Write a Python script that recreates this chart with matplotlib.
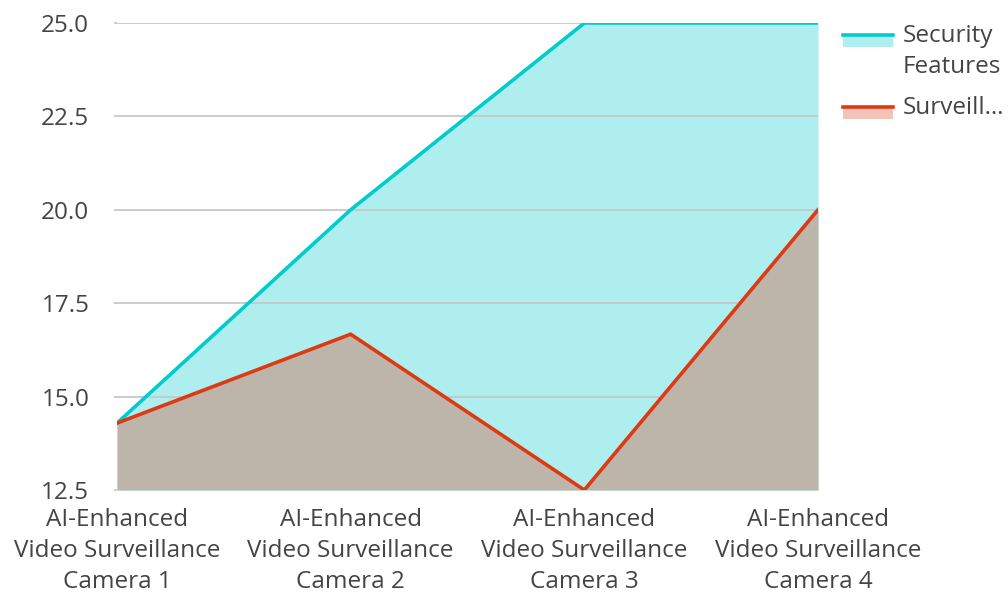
import numpy as np
import matplotlib
matplotlib.use("Agg")
import matplotlib.pyplot as plt
from matplotlib.patches import Rectangle
from matplotlib.lines import Line2D

plt.rcParams['font.family'] = ['Open Sans', 'DejaVu Sans']

categories = ["AI-Enhanced\nVideo Surveillance\nCamera 1",
              "AI-Enhanced\nVideo Surveillance\nCamera 2",
              "AI-Enhanced\nVideo Surveillance\nCamera 3",
              "AI-Enhanced\nVideo Surveillance\nCamera 4"]
security = [14.29, 20.0, 25.0, 25.0]
surveillance = [14.29, 16.67, 12.5, 20.0]
yticks = [12.5, 15.0, 17.5, 20.0, 22.5, 25.0]

cyan_line = "#00cccc"
cyan_fill = "#afeeee"
red_line = "#dd3a14"
red_fill = "#f2c4b8"
overlap = "#bdb5aa"
text_col = "#444444"
fs = 17.5

W, H = 1008, 594
fig = plt.figure(figsize=(W / 100, H / 100), dpi=100)
ax = fig.add_axes([117 / W, 1 - 490 / H, (818 - 117) / W, (490 - 23) / H])

x = np.arange(len(categories))
base = yticks[0]

# fills: cyan area then overlap (brownish) under the red line
ax.fill_between(x, base, security, color=cyan_fill, lw=0, zorder=1)
ax.fill_between(x, base, surveillance, color=overlap, lw=0, zorder=2)

ax.plot(x, security, color=cyan_line, lw=2.6, zorder=4, solid_joinstyle='miter')
ax.plot(x, surveillance, color=red_line, lw=2.6, zorder=4, solid_joinstyle='miter')

ax.set_xlim(0, len(categories) - 1)
ax.set_ylim(yticks[0], yticks[-1])
ax.set_yticks(yticks)
ax.set_yticklabels([f"{v:.1f}" for v in yticks])
ax.set_xticks(x)
ax.set_xticklabels(categories)

ax.grid(axis='y', color='#c8c8c8', lw=1.3, zorder=3)
ax.grid(axis='x', visible=False)
for s in ax.spines.values():
    s.set_visible(False)
ax.tick_params(axis='y', length=2, color='#c8c8c8', width=1.3, pad=18,
               labelsize=fs, labelcolor=text_col)
ax.tick_params(axis='x', length=0, pad=13, labelsize=fs, labelcolor=text_col)
for lab in ax.get_xticklabels():
    lab.set_linespacing(1.38)

# legend drawn by hand
def px(xp, yp):
    return xp / W, 1 - yp / H

def legend_entry(y_top, line_c, fill_c, label_lines):
    x0, y0 = px(843, y_top + 14)
    fig.add_artist(Rectangle((x0, y0), 50 / W, 13 / H, transform=fig.transFigure,
                             facecolor=fill_c, edgecolor='none'))
    lx0, ly = px(843, y_top + 1.5)
    lx1, _ = px(893, y_top + 1.5)
    fig.add_artist(Line2D([lx0, lx1], [ly, ly], transform=fig.transFigure,
                          color=line_c, lw=2.6))
    for i, t in enumerate(label_lines):
        tx, ty = px(903, y_top + 3 + 31 * i)
        fig.text(tx, ty, t, fontsize=fs, color=text_col, va='center', ha='left')

legend_entry(33, cyan_line, cyan_fill, ["Security", "Features"])
legend_entry(105, red_line, red_fill, ["Surveill…"])

fig.savefig("out.png", dpi=100)
